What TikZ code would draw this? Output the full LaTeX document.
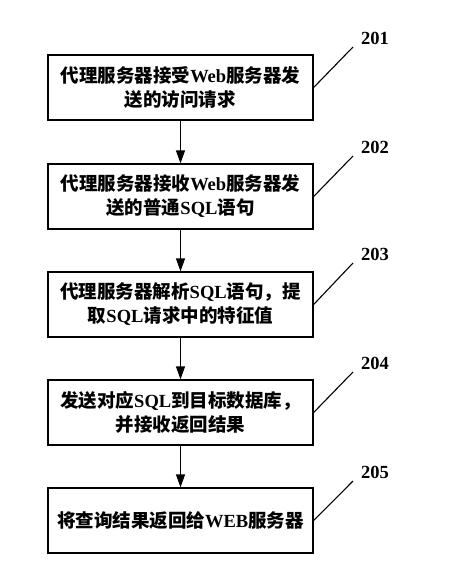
\documentclass[tikz,border=0pt]{standalone}
\usepackage{fontspec}
\setmainfont{Liberation Serif}
\newfontfamily\cjk{Noto Sans CJK SC}
\usetikzlibrary{arrows.meta}
\newcommand{\C}[1]{{\cjk #1}}
\tikzset{
  stepbox/.style={draw, line width=1.3pt, minimum width=265pt, minimum height=65pt, inner sep=0pt, align=center,
    font=\bfseries\fontsize{18.5}{24}\selectfont},
  flow/.style={line width=1.3pt, -{Triangle[width=9pt,length=13pt]}},
  tag/.style={font=\bfseries\fontsize{18.5}{20}\selectfont, inner sep=0pt},
  lead/.style={line width=1.1pt}
}
\begin{document}
\begin{tikzpicture}[x=1pt,y=-1pt]
\useasboundingbox (0,0) rectangle (474,566);
\node[stepbox] (b1) at (180.5,87.5) {\C{代理服务器接受}Web\C{服务器发}\\\C{送的访问请求}};
\node[stepbox] (b2) at (180.5,196.5) {\C{代理服务器接收}Web\C{服务器发}\\\C{送的普通}SQL\C{语句}};
\node[stepbox] (b3) at (180.5,304.5) {\C{代理服务器解析}SQL\C{语句，提}\\\C{取}SQL\C{请求中的特征值}};
\node[stepbox] (b4) at (180.5,412.5) {\C{发送对应}SQL\C{到目标数据库，}\\\C{并接收返回结果}};
\node[stepbox] (b5) at (180.5,520.5) {\C{将查询结果返回给}WEB\C{服务器}};
\draw[flow] (b1) -- (b2);
\draw[flow] (b2) -- (b3);
\draw[flow] (b3) -- (b4);
\draw[flow] (b4) -- (b5);
\coordinate (e1) at (353,47);
\coordinate (e2) at (353,156);
\coordinate (e3) at (353,263);
\coordinate (e4) at (353,372);
\coordinate (e5) at (353,481);
\draw[lead] (b1.east) -- (e1);
\draw[lead] (b2.east) -- (e2);
\draw[lead] (b3.east) -- (e3);
\draw[lead] (b4.east) -- (e4);
\draw[lead] (b5.east) -- (e5);
\node[tag] (t1) at (375,38) {201};
\node[tag] (t2) at (375,147) {202};
\node[tag] (t3) at (375,254) {203};
\node[tag] (t4) at (375,363) {204};
\node[tag] (t5) at (375,472) {205};
\end{tikzpicture}
\end{document}
